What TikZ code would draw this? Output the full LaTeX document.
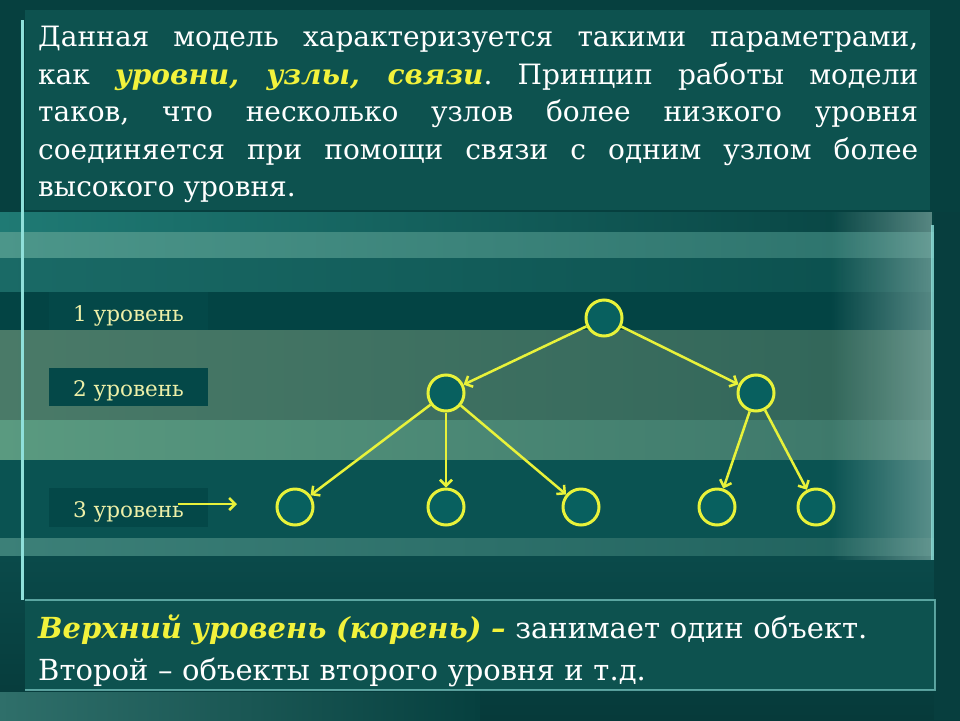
\documentclass[tikz,border=0pt]{standalone}
\usepackage{fontspec}
\setmainfont{DejaVu Serif}
\usetikzlibrary{arrows,arrows.meta,fadings}

\definecolor{deepteal}{HTML}{06403F}
\definecolor{boxteal}{HTML}{0D524F}
\definecolor{nodeteal}{HTML}{08605F}
\definecolor{nodeyellow}{HTML}{E8F23A}
\definecolor{hlyellow}{HTML}{F2F23C}
\definecolor{labelteal}{HTML}{044848}
\definecolor{labelyellow}{HTML}{EEF0A8}
\definecolor{glow}{HTML}{8FE0DA}
\definecolor{bandA}{HTML}{1F7A74}
\definecolor{bandB}{HTML}{4C968A}
\definecolor{bandBr}{HTML}{2A706A}
\definecolor{bandC}{HTML}{1A6A66}
\definecolor{bandCr}{HTML}{0A4E4C}
\definecolor{bandD}{HTML}{034444}
\definecolor{bandE}{HTML}{4A7A68}
\definecolor{bandEr}{HTML}{2F6458}
\definecolor{bandF}{HTML}{5A9A80}
\definecolor{bandFr}{HTML}{3A7468}
\definecolor{bandG}{HTML}{0A5352}
\definecolor{bandH}{HTML}{3C8078}
\definecolor{bandHr}{HTML}{1E605C}
\definecolor{bandI}{HTML}{0A4A4A}
\definecolor{bandIb}{HTML}{063A3A}
\definecolor{bandJ}{HTML}{2F6F6A}
\definecolor{fadeR}{HTML}{9AC0B8}
\definecolor{edgeR}{HTML}{073E3E}

\frenchspacing
\begin{document}
\begin{tikzpicture}[x=1pt,y=-1pt,
  lvl/.style={circle,draw=nodeyellow,fill=nodeteal,line width=3pt,
    minimum size=36pt,inner sep=0pt},
  link/.style={-{Straight Barb[length=6pt,width=12pt]},draw=nodeyellow,line width=2.5pt},
  lvltext/.style={anchor=base west,inner sep=0pt,text=labelyellow,
    font=\fontsize{21.5}{24}\selectfont}]
\useasboundingbox (0,0) rectangle (960,720);

% background stripes
\fill[deepteal] (0,0) rectangle (960,720);
\shade[left color=bandA,right color=deepteal] (0,212) rectangle (960,232);
\shade[left color=bandB,right color=bandBr] (0,232) rectangle (960,258);
\shade[left color=bandC,right color=bandCr] (0,258) rectangle (960,292);
\fill[bandD] (0,292) rectangle (960,330);
\shade[left color=bandE,right color=bandEr] (0,330) rectangle (960,420);
\shade[left color=bandF,right color=bandFr] (0,420) rectangle (960,460);
\fill[bandG] (0,460) rectangle (960,538);
\shade[left color=bandH,right color=bandHr] (0,538) rectangle (960,556);
\shade[top color=bandI,bottom color=bandIb] (0,556) rectangle (960,720);
\shade[left color=bandJ,right color=deepteal] (0,692) rectangle (480,720);
\fill[fadeR,path fading=west,opacity=.55] (830,212) rectangle (932,560);
\fill[edgeR] (934,212) rectangle (960,720);
\fill[glow] (21,20) rectangle (24,600);
\fill[glow,opacity=.8] (931,225) rectangle (934,560);

% boxes
\fill[boxteal] (25,10) rectangle (930,210);
\fill[labelteal] (49,292) rectangle (208,330);
\fill[labelteal] (49,368) rectangle (208,406);
\fill[labelteal] (49,488) rectangle (208,527);
\fill[boxteal] (25,600) rectangle (935,690);
\draw[glow,opacity=.6,line width=2pt] (25,600) -- (935,600) -- (935,690) -- (25,690);

\node[anchor=north west,inner sep=0pt,text width=880pt,align=justify,
  text=white,font=\fontsize{28}{37.5}\selectfont] (intro) at (38,26)
  {Данная модель характеризуется такими параметрами,\linebreak
   как {\color{hlyellow}\bfseries\itshape уровни, узлы, связи}. Принцип работы модели\linebreak
   таков, что несколько узлов более низкого уровня\linebreak
   соединяется при помощи связи с одним узлом более\linebreak
   высокого уровня.};

\node[lvltext] (lev1) at (73,321) {1 уровень};
\node[lvltext] (lev2) at (73,396) {2 уровень};
\node[lvltext] (lev3) at (73,517) {3 уровень};

% tree
\node[lvl] (root) at (604,318) {};
\node[lvl] (a) at (446,393) {};
\node[lvl] (b) at (756,393) {};
\node[lvl] (a1) at (295,507) {};
\node[lvl] (a2) at (446,507) {};
\node[lvl] (a3) at (581,507) {};
\node[lvl] (b1) at (717,507) {};
\node[lvl] (b2) at (816,507) {};

\draw[link] (root) -- (a);
\draw[link] (root) -- (b);
\draw[link] (a) -- (a1);
\draw[link] (a) -- (a2);
\draw[link] (a) -- (a3);
\draw[link] (b) -- (b1);
\draw[link] (b) -- (b2);

\coordinate (ptr0) at (178,504);
\coordinate (ptr1) at (237,504);
\draw[link] (ptr0) -- (ptr1);

\node[anchor=north west,inner sep=0pt,text width=890pt,align=left,
  text=white,font=\fontsize{29}{42}\selectfont] (summary) at (38,615)
  {{\color{hlyellow}\bfseries\itshape Верхний уровень (корень) –} занимает один объект.\\
   Второй – объекты второго уровня и т.д.};
\end{tikzpicture}
\end{document}
